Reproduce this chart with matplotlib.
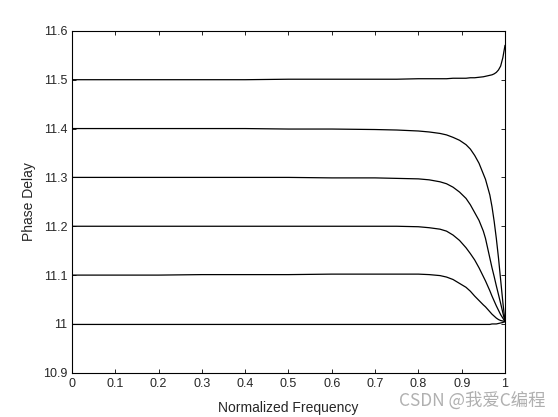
import matplotlib
matplotlib.use('Agg')
import matplotlib.pyplot as plt

plt.rcParams['font.family'] = ['Liberation Sans', 'DejaVu Sans']

# normalized frequency grid
freq = [0, 0.1, 0.2, 0.3, 0.4, 0.5, 0.6, 0.7,
        0.75, 0.8, 0.825, 0.85, 0.865, 0.88, 0.895, 0.91, 0.92, 0.93, 0.94, 0.95,
        0.955, 0.96, 0.965, 0.97, 0.975, 0.98, 0.985, 0.99, 0.995, 1.0]

# phase delay curves, one per fractional delay
pd_50 = [11.5, 11.5, 11.5, 11.5, 11.5, 11.501, 11.501, 11.501,
         11.501, 11.502, 11.502, 11.502, 11.502, 11.503, 11.503, 11.503, 11.504, 11.504, 11.505, 11.506,
         11.507, 11.508, 11.509, 11.51, 11.512, 11.515, 11.52, 11.528, 11.545, 11.57]
pd_40 = [11.4, 11.4, 11.4, 11.4, 11.4, 11.399, 11.399, 11.398,
         11.397, 11.395, 11.393, 11.39, 11.387, 11.382, 11.376, 11.367, 11.358, 11.345, 11.329, 11.307,
         11.296, 11.28, 11.264, 11.24, 11.21, 11.175, 11.135, 11.09, 11.045, 11.005]
pd_30 = [11.3, 11.3, 11.3, 11.3, 11.3, 11.3, 11.299, 11.299,
         11.298, 11.297, 11.295, 11.291, 11.287, 11.28, 11.27, 11.257, 11.244, 11.228, 11.212, 11.19,
         11.175, 11.155, 11.135, 11.115, 11.097, 11.078, 11.06, 11.042, 11.023, 11.005]
pd_20 = [11.2, 11.2, 11.2, 11.2, 11.2, 11.2, 11.2, 11.2,
         11.2, 11.199, 11.197, 11.194, 11.19, 11.182, 11.171, 11.156, 11.144, 11.131, 11.115, 11.097,
         11.088, 11.078, 11.068, 11.057, 11.047, 11.037, 11.028, 11.019, 11.012, 11.005]
pd_10 = [11.1, 11.1, 11.1, 11.101, 11.101, 11.101, 11.102, 11.102,
         11.102, 11.102, 11.101, 11.099, 11.096, 11.091, 11.083, 11.075, 11.067, 11.057, 11.048, 11.039,
         11.035, 11.03, 11.025, 11.02, 11.016, 11.012, 11.009, 11.007, 11.006, 11.005]
pd_00 = [10.999, 10.999, 10.999, 10.999, 10.999, 10.999, 10.999, 10.999,
         10.999, 10.999, 10.999, 10.999, 10.999, 10.999, 10.999, 10.999, 10.999, 10.999, 10.999, 10.999,
         10.999, 10.999, 10.999, 11.0, 11.0, 11.0, 11.001, 11.002, 11.003, 11.005]

xticks = [0, 0.1, 0.2, 0.3, 0.4, 0.5, 0.6, 0.7, 0.8, 0.9, 1]
xticklabels = ['0', '0.1', '0.2', '0.3', '0.4', '0.5', '0.6', '0.7', '0.8', '0.9', '1']
yticks = [10.9, 11, 11.1, 11.2, 11.3, 11.4, 11.5, 11.6]
yticklabels = ['10.9', '11', '11.1', '11.2', '11.3', '11.4', '11.5', '11.6']

fig = plt.figure(figsize=(5.58, 4.17), dpi=100)
ax = fig.add_axes([0.129, 0.106, 0.776, 0.820])

for pd in [pd_50, pd_40, pd_30, pd_20, pd_10, pd_00]:
    ax.plot(freq, pd, color='black', linewidth=0.9)

ax.set_xlim(0, 1)
ax.set_ylim(10.9, 11.6)
ax.set_xticks(xticks)
ax.set_xticklabels(xticklabels)
ax.set_yticks(yticks)
ax.set_yticklabels(yticklabels)
ax.tick_params(direction='in', length=3, width=0.6, top=True, right=True,
               labelsize=9, labelcolor='#262626', color='black', pad=3.5)
for s in ax.spines.values():
    s.set_linewidth(0.8)

ax.set_xlabel('Normalized Frequency', fontsize=10, color='#262626', labelpad=8)
ax.set_ylabel('Phase Delay', fontsize=10, color='#262626', labelpad=5)

fig.text(0.977, 0.04, 'CSDN @我爱C编程', fontsize=12.5, color='#b0b0b0',
         ha='right', va='center', family=['Noto Sans CJK SC', 'DejaVu Sans'])

fig.savefig('out.png', dpi=100)
